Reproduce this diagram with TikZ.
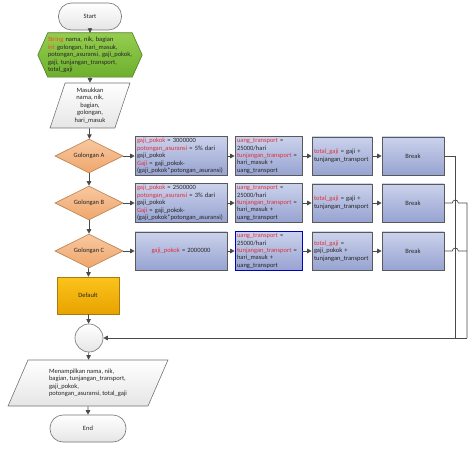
\documentclass[tikz,border=0pt]{standalone}
\usepackage{fontspec}
\setmainfont{Carlito}
\usetikzlibrary{arrows.meta,shapes.geometric,backgrounds}

\definecolor{procTop}{HTML}{CBD2EC}
\definecolor{procBot}{HTML}{97A3D1}
\definecolor{decTop}{HTML}{F8C8A0}
\definecolor{decBot}{HTML}{EFA66C}
\definecolor{decLine}{HTML}{B9804F}
\definecolor{hexTop}{HTML}{95CD4F}
\definecolor{hexBot}{HTML}{6DAF2E}
\definecolor{hexLine}{HTML}{4F7D22}
\definecolor{defTop}{HTML}{FAC41C}
\definecolor{defBot}{HTML}{E9A200}
\definecolor{defLine}{HTML}{A97A10}
\definecolor{varred}{HTML}{E2313B}
\definecolor{kwred}{HTML}{E8561E}
\definecolor{wire}{HTML}{4A4A4A}

\newcommand{\rv}[1]{\textcolor{varred}{#1}}
\newcommand{\kw}[1]{\textcolor{kwred}{#1}}

\tikzset{
  base/.style={font=\fontsize{6.5}{7.4}\selectfont, text=black!85},
  terminal/.style={base, draw=black!55, line width=0.6pt, rounded corners=13pt, top color=white, bottom color=black!10, minimum width=#1, minimum height=27pt},
  io/.style={base, trapezium, trapezium stretches=true, draw=black!55, line width=0.6pt, top color=white, bottom color=black!10, inner sep=1pt},
  decision/.style={base, diamond, aspect=2, draw=decLine, line width=0.6pt, top color=decTop, bottom color=decBot, minimum width=68pt, minimum height=34pt, inner sep=0pt},
  proc/.style={base, draw=black!65, line width=0.6pt, top color=procTop, bottom color=procBot, minimum height=38pt, inner sep=2pt, align=left},
  defbox/.style={base, draw=defLine, line width=0.6pt, top color=defTop, bottom color=defBot, minimum width=62pt, minimum height=37pt},
  junction/.style={circle, draw=black!55, line width=0.6pt, top color=white, bottom color=black!10, minimum size=28pt, inner sep=0pt},
  flow/.style={draw=wire, line width=0.7pt, -{Triangle[length=4.5pt,width=4.5pt]}},
  link/.style={draw=wire, line width=0.7pt}
}

\begin{document}
\begin{tikzpicture}[x=1pt,y=-1pt]
			%%%%% START %%%%%
			\useasboundingbox (0,0) rectangle (474,449);

			\node[terminal=63pt] (start) at (90,16.5) {Start};

			\node[base, text width=84pt, minimum height=44pt, inner sep=0pt, align=left] (decl) at (90,55) {\kw{String} nama, nik, bagian\\\kw{int} golongan, hari\_masuk,\\potongan\_asuransi, gaji\_pokok,\\gaji, tunjangan\_transport,\\total\_gaji};
			\begin{scope}[on background layer]
				\draw[draw=hexLine, line width=0.6pt, top color=hexTop, bottom color=hexBot] (decl.north west) -- (decl.north east) -- ([xshift=10pt]decl.east) -- (decl.south east) -- (decl.south west) -- ([xshift=-10pt]decl.west) -- cycle;
			\end{scope}

			\node[io, trapezium left angle=75, trapezium right angle=105, minimum width=80pt, minimum height=45pt, align=center] (inp) at (90,105.5) {Masukkan\\nama, nik,\\bagian,\\golongan,\\hari\_masuk};

			% golongan checks
			\node[decision] (golA) at (89,156) {Golongan A};
			\node[decision] (golB) at (89,203) {Golongan B};
			\node[decision] (golC) at (89,251) {Golongan C};
			\node[defbox] (dflt) at (88,295.5) {Default};

			\node[junction] (merge) at (89,338) {};
			\node[io, trapezium left angle=66, trapezium right angle=114, minimum width=160pt, minimum height=46pt, align=left] (outp) at (88,383) {Menampilkan nama, nik,\\bagian, tunjangan\_transport,\\gaji\_pokok,\\potongan\_asuransi, total\_gaji};
			\node[terminal=76pt] (stop) at (88,428.5) {End};

			% row A
			\node[proc, text width=88pt] (hitA) at (181,156) {\rv{gaji\_pokok} = 3000000\\\rv{potongan\_asuransi} = 5\% dari\\gaji\_pokok\\\rv{Gaji} = gaji\_pokok-\\(gaji\_pokok*potongan\_asuransi)};
			\node[proc, text width=63pt] (transA) at (268.5,156) {\rv{uang\_transport} =\\25000/hari\\\rv{tunjangan\_transport} =\\hari\_masuk +\\uang\_transport};
			\node[proc, text width=56pt] (totalA) at (342,156) {\rv{total\_gaji} = gaji +\\tunjangan\_transport};
			\node[proc, text width=58pt, align=center] (brkA) at (413,156) {Break};

			% row B
			\node[proc, text width=88pt] (hitB) at (181,203) {\rv{gaji\_pokok} = 2500000\\\rv{potongan\_asuransi} = 3\% dari\\gaji\_pokok\\\rv{Gaji} = gaji\_pokok-\\(gaji\_pokok*potongan\_asuransi)};
			\node[proc, text width=63pt] (transB) at (268.5,203) {\rv{uang\_transport} =\\25000/hari\\\rv{tunjangan\_transport} =\\hari\_masuk +\\uang\_transport};
			\node[proc, text width=56pt] (totalB) at (342,203) {\rv{total\_gaji} = gaji +\\tunjangan\_transport};
			\node[proc, text width=58pt, align=center] (brkB) at (413,203) {Break};

			% row C
			\node[proc, text width=88pt, align=center] (hitC) at (181,251) {\rv{gaji\_pokok} = 2000000};
			\node[proc, text width=63pt, draw=blue!75!black] (transC) at (268.5,251) {\rv{uang\_transport} =\\25000/hari\\\rv{tunjangan\_transport} =\\hari\_masuk +\\uang\_transport};
			\node[proc, text width=56pt] (totalC) at (342,251) {\rv{total\_gaji} =\\gaji\_pokok +\\tunjangan\_transport};
			\node[proc, text width=58pt, align=center] (brkC) at (413,251) {Break};

			% main line
			\draw[flow] (start) -- (decl);
			\draw[flow] (decl) -- (inp);
			\draw[flow] (inp) -- (golA);
			\draw[flow] (golA) -- (golB);
			\draw[flow] (golB) -- (golC);
			\draw[flow] (golC) -- (dflt);
			\draw[flow] (dflt) -- (merge);
			\draw[flow] (merge) -- (outp);
			\draw[flow] (outp) -- (stop);

			% rows
			\draw[flow] (golA) -- (hitA);
			\draw[flow] (hitA) -- (transA);
			\draw[flow] (transA) -- (totalA);
			\draw[flow] (totalA) -- (brkA);

			\draw[flow] (golB) -- (hitB);
			\draw[flow] (hitB) -- (transB);
			\draw[flow] (transB) -- (totalB);
			\draw[flow] (totalB) -- (brkB);

			\draw[flow] (golC) -- (hitC);
			\draw[flow] (hitC) -- (transC);
			\draw[flow] (transC) -- (totalC);
			\draw[flow] (totalC) -- (brkC);

			% back to the merge point
			\coordinate (railA) at (455,338);
			\coordinate (railB) at (467,338);
			\draw[link] (brkA.east) -| (railA);
			\draw[link] (brkB.east) -- ++(8pt,0) arc[start angle=180, end angle=0, radius=3pt] -| (railB);
			\draw[link] (brkC.east) -- ++(8pt,0) arc[start angle=180, end angle=0, radius=3pt] -- (railB |- brkC);
			\draw[flow] (railB) -- (merge);

			%%%%% END %%%%%
\end{tikzpicture}
\end{document}
